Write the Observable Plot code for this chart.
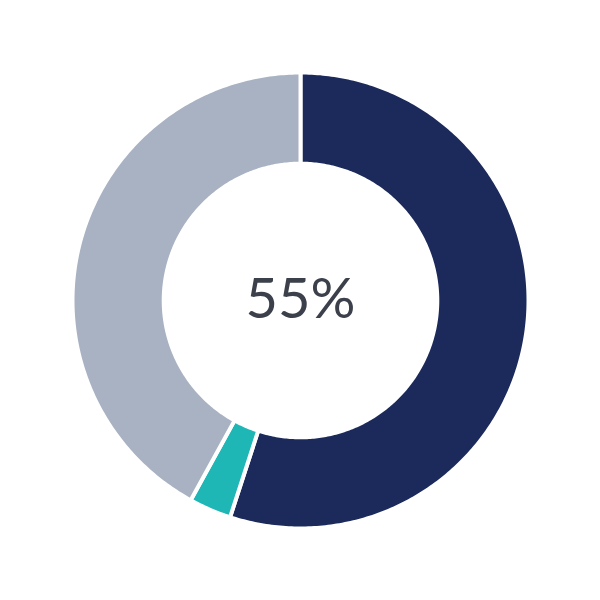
<!DOCTYPE html>
<html>
<head>
<meta charset="utf-8">
<script src="https://cdn.jsdelivr.net/npm/d3@7"></script>
<script src="https://cdn.jsdelivr.net/npm/@observablehq/plot@0.6"></script>
<style>
  html, body { margin: 0; padding: 0; background: #fff; }
  #chart { width: 600px; height: 600px; }
</style>
</head>
<body>
<div id="chart"></div>
<script>
const categories = ["Primary", "Secondary", "Other"];
const values = [55, 3, 42];
const colors = ["#1b2a5a", "#1fb6b6", "#a8b2c2"];
const centerLabel = "55%";

const outerR = 1;
const innerR = 0.6;

const pie = d3.pie().sort(null).value(d => d.value);
const arcs = pie(categories.map((c, i) => ({category: c, value: values[i]})));

const pts = [];
for (const a of arcs) {
  const n = Math.max(8, Math.ceil((a.endAngle - a.startAngle) * 80));
  for (let k = 0; k <= n; k++) {
    const t = a.startAngle + (a.endAngle - a.startAngle) * k / n;
    pts.push({category: a.data.category, x: outerR * Math.sin(t), y: outerR * Math.cos(t)});
  }
  for (let k = n; k >= 0; k--) {
    const t = a.startAngle + (a.endAngle - a.startAngle) * k / n;
    pts.push({category: a.data.category, x: innerR * Math.sin(t), y: innerR * Math.cos(t)});
  }
}

const span = 300 / 228;
const chart = Plot.plot({
  width: 600,
  height: 600,
  margin: 0,
  x: {domain: [-span, span], axis: null},
  y: {domain: [-span, span], axis: null},
  color: {domain: categories, range: colors},
  marks: [
    Plot.line(pts, {x: "x", y: "y", z: "category", fill: "category", stroke: "white", strokeWidth: 4, curve: "linear-closed"}),
    Plot.text([centerLabel], {x: 0, y: 0, text: d => d, fontSize: 56, fill: "#3b404b", fontFamily: "Lato", textAnchor: "middle", dy: 0})
  ]
});
document.getElementById("chart").appendChild(chart);
</script>
</body>
</html>
